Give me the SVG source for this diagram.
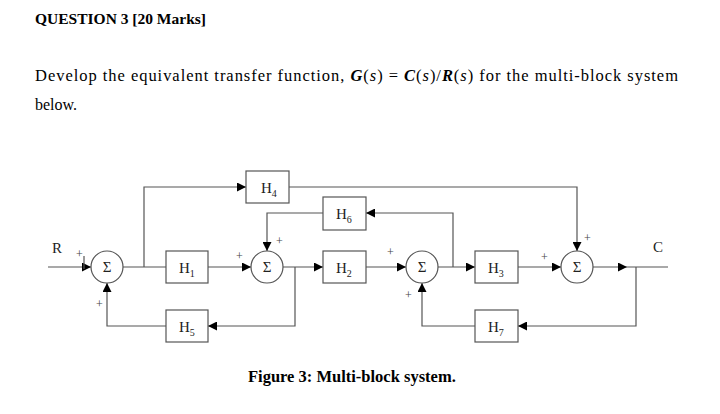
<svg xmlns="http://www.w3.org/2000/svg" width="720" height="414" viewBox="0 0 720 414">
<style>
.t{font-family:"Liberation Serif",serif;fill:#000}
.b{fill:#fff;stroke:#555;stroke-width:1.2}
.l{fill:none;stroke:#555;stroke-width:1.2}
.h{font-family:"Liberation Serif",serif;font-size:15px;fill:#222}
.s{font-family:"Liberation Serif",serif;font-size:12px;fill:#444}
</style>
<defs><marker id="a" viewBox="0 0 10 10" refX="10" refY="5" markerWidth="9" markerHeight="9" orient="auto" markerUnits="userSpaceOnUse"><path d="M0,0L10,5L0,10z" fill="#000"/></marker></defs>
<rect width="720" height="414" fill="#fff"/>
<text class="t" x="35" y="24" font-size="15.5" font-weight="bold">QUESTION 3 [20 Marks]</text>
<text class="t" x="35" y="81" font-size="16.5" textLength="643" lengthAdjust="spacing">Develop the equivalent transfer function, <tspan font-weight="bold" font-style="italic">G</tspan>(<tspan font-style="italic">s</tspan>) = <tspan font-weight="bold" font-style="italic">C</tspan>(<tspan font-style="italic">s</tspan>)/<tspan font-weight="bold" font-style="italic">R</tspan>(<tspan font-style="italic">s</tspan>) for the multi-block  system</text>
<text class="t" x="35" y="110" font-size="16">below.</text>
<g id="connectors">
<path class="l" d="M48,267H91" marker-end="url(#a)"/>
<path class="l" d="M123,267H166"/>
<path class="l" d="M208,267H251" marker-end="url(#a)"/>
<path class="l" d="M144,267V187H246" marker-end="url(#a)"/>
<path class="l" d="M283,267H323" marker-end="url(#a)"/>
<path class="l" d="M295,267V326H208" marker-end="url(#a)"/>
<path class="l" d="M166,326H107V283" marker-end="url(#a)"/>
<path class="l" d="M323,213H267V251" marker-end="url(#a)"/>
<path class="l" d="M366,267H406" marker-end="url(#a)"/>
<path class="l" d="M438,267H475" marker-end="url(#a)"/>
<path class="l" d="M453,267V213H366" marker-end="url(#a)"/>
<path class="l" d="M518,267H561" marker-end="url(#a)"/>
<path class="l" d="M289,187H577V251" marker-end="url(#a)"/>
<path class="l" d="M593,267H627" marker-end="url(#a)"/>
<path class="l" d="M627,267H668"/>
<path class="l" d="M636,267V326H518" marker-end="url(#a)"/>
<path class="l" d="M475,326H422V283" marker-end="url(#a)"/>
<path class="l" d="M84,256V269"/>
</g>
<g id="sum1"><circle class="b" cx="107" cy="267" r="16"/><text class="h" x="107" y="272" text-anchor="middle" font-size="13">Σ</text></g>
<g id="sum2"><circle class="b" cx="267" cy="267" r="16"/><text class="h" x="267" y="272" text-anchor="middle" font-size="13">Σ</text></g>
<g id="sum3"><circle class="b" cx="422" cy="267" r="16"/><text class="h" x="422" y="272" text-anchor="middle" font-size="13">Σ</text></g>
<g id="sum4"><circle class="b" cx="577" cy="267" r="16"/><text class="h" x="577" y="272" text-anchor="middle" font-size="13">Σ</text></g>
<g id="H4"><rect class="b" x="246" y="171" width="43" height="32"/><text class="h" x="261" y="193" font-size="16">H<tspan font-size="10" dy="4">4</tspan></text></g>
<g id="H6"><rect class="b" x="323" y="197" width="43" height="33"/><text class="h" x="336" y="219" font-size="16">H<tspan font-size="10" dy="4">6</tspan></text></g>
<g id="H1"><rect class="b" x="166" y="251" width="42" height="32"/><text class="h" x="179" y="273" font-size="16">H<tspan font-size="10" dy="4">1</tspan></text></g>
<g id="H2"><rect class="b" x="323" y="251" width="43" height="32"/><text class="h" x="336" y="273" font-size="16">H<tspan font-size="10" dy="4">2</tspan></text></g>
<g id="H3"><rect class="b" x="475" y="251" width="43" height="32"/><text class="h" x="488" y="273" font-size="16">H<tspan font-size="10" dy="4">3</tspan></text></g>
<g id="H5"><rect class="b" x="166" y="310" width="42" height="32"/><text class="h" x="179" y="332" font-size="16">H<tspan font-size="10" dy="4">5</tspan></text></g>
<g id="H7"><rect class="b" x="475" y="310" width="43" height="32"/><text class="h" x="488" y="332" font-size="16">H<tspan font-size="10" dy="4">7</tspan></text></g>
<text class="h" x="52" y="253" font-size="15">R</text>
<text class="h" x="653" y="252" font-size="15">C</text>
<text class="s" x="76" y="258">+</text>
<text class="s" x="96" y="308">+</text>
<text class="s" x="236" y="260">+</text>
<text class="s" x="276" y="245">+</text>
<text class="s" x="387" y="256">+</text>
<text class="s" x="405" y="299">+</text>
<text class="s" x="541" y="261">+</text>
<text class="s" x="584" y="242">+</text>
<text class="t" x="248" y="382" font-size="16.5" font-weight="bold">Figure 3: Multi-block system.</text>
</svg>
